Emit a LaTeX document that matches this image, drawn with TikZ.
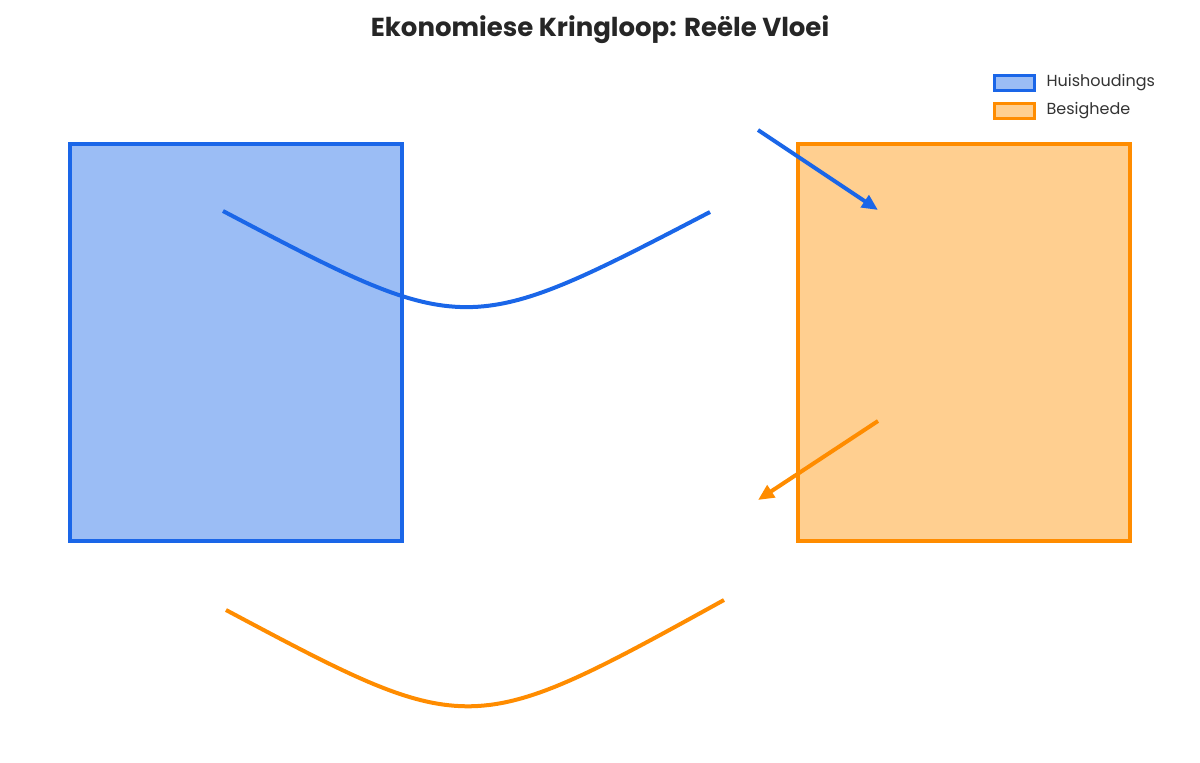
\documentclass[tikz,border=0pt]{standalone}
\usepackage{fontspec}
\setmainfont{Poppins}
\usetikzlibrary{arrows.meta}
\definecolor{hb}{HTML}{1A66E8}
\definecolor{hbf}{HTML}{9BBDF5}
\definecolor{bo}{HTML}{FF8C00}
\definecolor{bof}{HTML}{FFCF90}
\begin{document}
\begin{tikzpicture}[x=1pt,y=-1pt,
  box/.style={line width=3.5pt},
  flow/.style={line width=4pt},
  arr/.style={flow,-{Triangle[length=16pt,width=14pt]}},
  lg/.style={anchor=west,font=\fontsize{16}{16}\selectfont,text=black!80}]
\useasboundingbox (0,0) rectangle (1200,763);
\node[font=\fontsize{26}{26}\selectfont\bfseries,text=black!85] (title) at (600,30) {Ekonomiese Kringloop: Reële Vloei};
\draw[box,draw=hb,fill=hbf] (70,144) rectangle (402,541);
\draw[box,draw=bo,fill=bof] (798,144) rectangle (1130,541);
\coordinate (a1) at (223,211); \coordinate (a2) at (710,212);
\draw[flow,hb] (a1) .. controls (466,339) .. (a2);
\coordinate (b1) at (758,130); \coordinate (b2) at (878,210);
\draw[arr,hb] (b1) -- (b2);
\coordinate (c1) at (878,421); \coordinate (c2) at (758,500);
\draw[arr,bo] (c1) -- (c2);
\coordinate (d1) at (226,610); \coordinate (d2) at (724,600);
\draw[flow,bo] (d1) .. controls (470,740) .. (d2);
\draw[line width=3pt,draw=hb,fill=hbf] (994,75) rectangle (1034,90);
\draw[line width=3pt,draw=bo,fill=bof] (994,103) rectangle (1034,118);
\node[lg] (l1) at (1043,83) {Huishoudings};
\node[lg] (l2) at (1043,111) {Besighede};
\end{tikzpicture}
\end{document}
